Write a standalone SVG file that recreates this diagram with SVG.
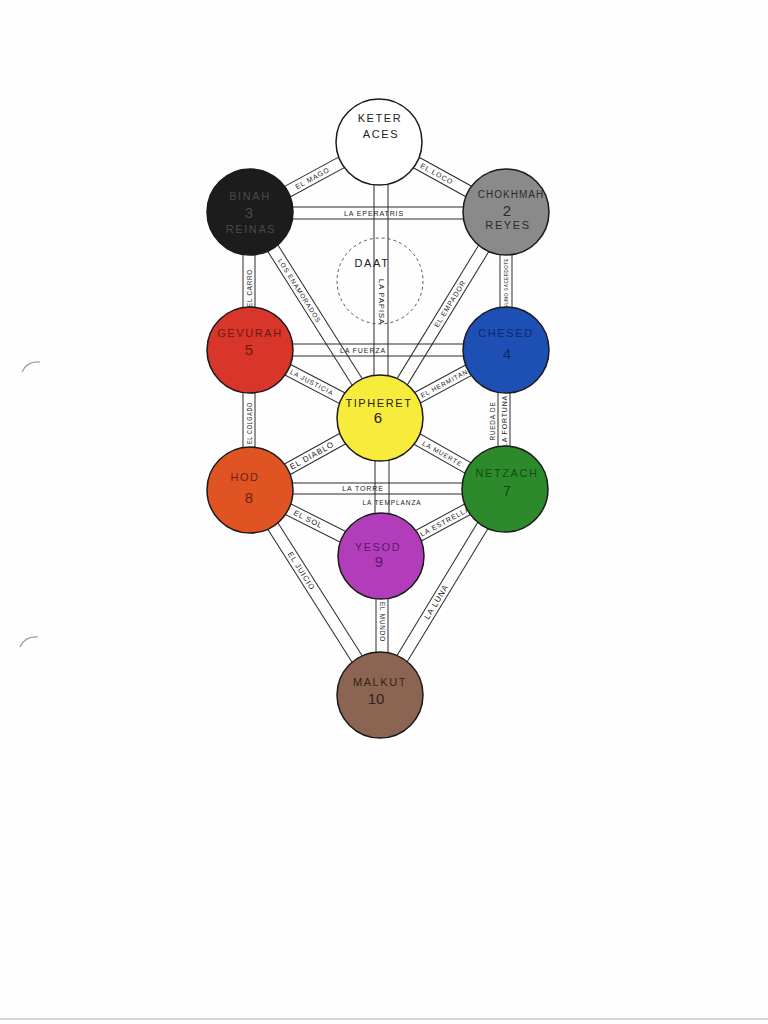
<svg xmlns="http://www.w3.org/2000/svg" width="768" height="1024" viewBox="0 0 768 1024">
<style>
.ch line{stroke:#2a2a2a;stroke-width:1}
.lbl{font-family:"Liberation Sans",Arial,sans-serif;font-size:7px;letter-spacing:0.9px;fill:#222;text-anchor:middle;dominant-baseline:central}
.nt{font-family:"Liberation Sans",Arial,sans-serif;font-size:11px;letter-spacing:1.6px;text-anchor:middle}
.num{font-size:15px;letter-spacing:0}
.node circle{stroke:#1a1a1a;stroke-width:1.5}
</style>
<rect width="768" height="1024" fill="#fefefe"/>
<line x1="0" y1="1019" x2="768" y2="1019" stroke="#c8c8c8" stroke-width="1.5"/>
<path d="M40,362 Q27,361 22,372" fill="none" stroke="#999" stroke-width="1.2"/>
<path d="M38,637 Q25,636 20,647" fill="none" stroke="#999" stroke-width="1.2"/>

<g id="connectors" class="ch">
  <!-- vertical -->
  <g id="c-keter-tiphereth"><line x1="374" y1="142" x2="374" y2="418"/><line x1="388" y1="142" x2="388" y2="418"/>
    <text class="lbl" transform="translate(381,302) rotate(90)" textLength="46" lengthAdjust="spacingAndGlyphs">LA PAPISA</text></g>
  <g id="c-binah-gevurah"><line x1="243" y1="212" x2="243" y2="350"/><line x1="255" y1="212" x2="255" y2="350"/>
    <text class="lbl" transform="translate(249,288) rotate(-90)" textLength="38" lengthAdjust="spacingAndGlyphs">EL CARRO</text></g>
  <g id="c-chokhmah-chesed"><line x1="500" y1="212" x2="500" y2="350"/><line x1="512" y1="212" x2="512" y2="350"/>
    <text class="lbl" transform="translate(506,283) rotate(-90)" textLength="50" lengthAdjust="spacingAndGlyphs" style="font-size:6px">SUMO SACERDOTE</text></g>
  <g id="c-gevurah-hod"><line x1="243" y1="350" x2="243" y2="490"/><line x1="255" y1="350" x2="255" y2="490"/>
    <text class="lbl" transform="translate(249,423) rotate(-90)" textLength="42" lengthAdjust="spacingAndGlyphs">EL COLGADO</text></g>
  <g id="c-chesed-netzach"><line x1="498" y1="350" x2="498" y2="489"/><line x1="510" y1="350" x2="510" y2="489"/>
    <text class="lbl" transform="translate(492,421) rotate(-90)" textLength="39" lengthAdjust="spacingAndGlyphs">RUEDA DE</text>
    <text class="lbl" transform="translate(504,421) rotate(-90)" textLength="52" lengthAdjust="spacingAndGlyphs">LA FORTUNA</text></g>
  <g id="c-tiphereth-yesod"><line x1="375" y1="418" x2="375" y2="556"/><line x1="389" y1="418" x2="389" y2="556"/>
    <text class="lbl" x="392" y="502" style="font-size:6.5px">LA TEMPLANZA</text></g>
  <g id="c-yesod-malkut"><line x1="376" y1="556" x2="376" y2="695"/><line x1="388" y1="556" x2="388" y2="695"/>
    <text class="lbl" transform="translate(382,622) rotate(90)" textLength="40" lengthAdjust="spacingAndGlyphs">EL MUNDO</text></g>
  <!-- horizontal -->
  <g id="c-binah-chokhmah"><line x1="250" y1="207" x2="506" y2="207"/><line x1="250" y1="219" x2="506" y2="219"/>
    <text class="lbl" x="374" y="213">LA EPERATRIS</text></g>
  <g id="c-gevurah-chesed"><line x1="250" y1="344" x2="506" y2="344"/><line x1="250" y1="356" x2="506" y2="356"/>
    <text class="lbl" x="363" y="350">LA FUERZA</text></g>
  <g id="c-hod-netzach"><line x1="250" y1="483" x2="505" y2="483"/><line x1="250" y1="494" x2="505" y2="494"/>
    <text class="lbl" x="363" y="488.5">LA TORRE</text></g>
  <!-- diagonal -->
  <g id="c-binah-keter" transform="translate(250,212) rotate(-28.49)"><line x1="0" y1="-6" x2="147" y2="-6"/><line x1="0" y1="6" x2="147" y2="6"/>
    <text class="lbl" x="71" y="0">EL MAGO</text></g>
  <g id="c-keter-chokhmah" transform="translate(379,142) rotate(28.86)"><line x1="0" y1="-6" x2="145" y2="-6"/><line x1="0" y1="6" x2="145" y2="6"/>
    <text class="lbl" x="66" y="0">EL LOCO</text></g>
  <g id="c-binah-tiphereth" transform="translate(250,212) rotate(57.75)"><line x1="0" y1="-6" x2="244" y2="-6"/><line x1="0" y1="6" x2="244" y2="6"/>
    <text class="lbl" x="93" y="0" style="font-size:6.5px">LOS ENAMORADOS</text></g>
  <g id="c-tiphereth-chokhmah" transform="translate(380,418) rotate(-58.55)"><line x1="0" y1="-6" x2="242" y2="-6"/><line x1="0" y1="6" x2="242" y2="6"/>
    <text class="lbl" x="134" y="0">EL EMPADOR</text></g>
  <g id="c-gevurah-tiphereth" transform="translate(250,350) rotate(27.6)"><line x1="0" y1="-6" x2="147" y2="-6"/><line x1="0" y1="6" x2="147" y2="6"/>
    <text class="lbl" x="70" y="0" style="font-size:6.5px">LA JUSTICIA</text></g>
  <g id="c-tiphereth-chesed" transform="translate(380,418) rotate(-28.36)"><line x1="0" y1="-6" x2="143" y2="-6"/><line x1="0" y1="6" x2="143" y2="6"/>
    <text class="lbl" x="73" y="0" style="font-size:6.5px">EL HERMITAN</text></g>
  <g id="c-hod-tiphereth" transform="translate(250,490) rotate(-28.98)"><line x1="0" y1="-6" x2="149" y2="-6"/><line x1="0" y1="6" x2="149" y2="6"/>
    <text class="lbl" x="71" y="0" style="font-size:8px">EL DIABLO</text></g>
  <g id="c-tiphereth-netzach" transform="translate(380,418) rotate(29.6)"><line x1="0" y1="-6" x2="144" y2="-6"/><line x1="0" y1="6" x2="144" y2="6"/>
    <text class="lbl" x="72" y="0" style="font-size:6.5px">LA MUERTE</text></g>
  <g id="c-hod-yesod" transform="translate(250,490) rotate(26.74)"><line x1="0" y1="-6" x2="147" y2="-6"/><line x1="0" y1="6" x2="147" y2="6"/>
    <text class="lbl" x="65" y="0" style="font-size:7.5px">EL SOL</text></g>
  <g id="c-yesod-netzach" transform="translate(381,556) rotate(-28.38)"><line x1="0" y1="-6" x2="141" y2="-6"/><line x1="0" y1="6" x2="141" y2="6"/>
    <text class="lbl" x="73" y="0">LA ESTRELLA</text></g>
  <g id="c-hod-malkut" transform="translate(250,490) rotate(57.62)"><line x1="0" y1="-6" x2="243" y2="-6"/><line x1="0" y1="6" x2="243" y2="6"/>
    <text class="lbl" x="96" y="0" style="font-size:7.5px">EL JUICIO</text></g>
  <g id="c-malkut-netzach" transform="translate(380,695) rotate(-58.75)"><line x1="0" y1="-6" x2="241" y2="-6"/><line x1="0" y1="6" x2="241" y2="6"/>
    <text class="lbl" x="109" y="0" style="font-size:8px">LA LUNA</text></g>
</g>

<g id="daat" class="node">
  <circle cx="380" cy="281" r="43" fill="none" stroke-dasharray="3,3" style="stroke:#555;stroke-width:1"/>
  <text class="nt" x="372" y="267" fill="#222">DAAT</text>
</g>
<g id="keter" class="node">
  <circle cx="379" cy="142" r="43" fill="#ffffff"/>
  <text class="nt" x="380" y="122" fill="#222">KETER</text>
  <text class="nt" x="381" y="138" fill="#222">ACES</text>
</g>
<g id="binah" class="node">
  <circle cx="250" cy="212" r="43" fill="#1c1c1c"/>
  <text class="nt" x="250" y="200" fill="#4a4a4a">BINAH</text>
  <text class="nt num" x="249" y="218" fill="#4a4a4a">3</text>
  <text class="nt" x="251" y="233" fill="#4a4a4a">REINAS</text>
</g>
<g id="chokhmah" class="node">
  <circle cx="506" cy="212" r="43" fill="#8a8a8a"/>
  <text class="nt" x="511" y="198" fill="#2a2a2a" style="font-size:10px;letter-spacing:1px">CHOKHMAH</text>
  <text class="nt num" x="507" y="216" fill="#2a2a2a">2</text>
  <text class="nt" x="508" y="229" fill="#2a2a2a">REYES</text>
</g>
<g id="gevurah" class="node">
  <circle cx="250" cy="350" r="43" fill="#d8352b"/>
  <text class="nt" x="250" y="337" fill="#6e1812">GEVURAH</text>
  <text class="nt num" x="249" y="355" fill="#6e1812">5</text>
</g>
<g id="chesed" class="node">
  <circle cx="506" cy="350" r="43" fill="#1e4fb5"/>
  <text class="nt" x="506" y="337" fill="#0d2a66">CHESED</text>
  <text class="nt num" x="507" y="359" fill="#0d2a66">4</text>
</g>
<g id="tiphereth" class="node">
  <circle cx="380" cy="418" r="43" fill="#f7ec3c"/>
  <text class="nt" x="379" y="407" fill="#222">TIPHERET</text>
  <text class="nt num" x="378" y="423" fill="#222">6</text>
</g>
<g id="hod" class="node">
  <circle cx="250" cy="490" r="43" fill="#e05424"/>
  <text class="nt" x="245" y="481" fill="#6a2210">HOD</text>
  <text class="nt num" x="249" y="503" fill="#6a2210">8</text>
</g>
<g id="netzach" class="node">
  <circle cx="505" cy="489" r="43" fill="#2c8a2c"/>
  <text class="nt" x="507" y="477" fill="#154a15">NETZACH</text>
  <text class="nt num" x="507" y="496" fill="#154a15">7</text>
</g>
<g id="yesod" class="node">
  <circle cx="381" cy="556" r="43" fill="#b23dbb"/>
  <text class="nt" x="378" y="551" fill="#5e1866">YESOD</text>
  <text class="nt num" x="379" y="567" fill="#5e1866">9</text>
</g>
<g id="malkut" class="node">
  <circle cx="380" cy="695" r="43" fill="#8b6552"/>
  <text class="nt" x="380" y="686" fill="#33241c">MALKUT</text>
  <text class="nt num" x="376" y="704" fill="#33241c">10</text>
</g>
</svg>
